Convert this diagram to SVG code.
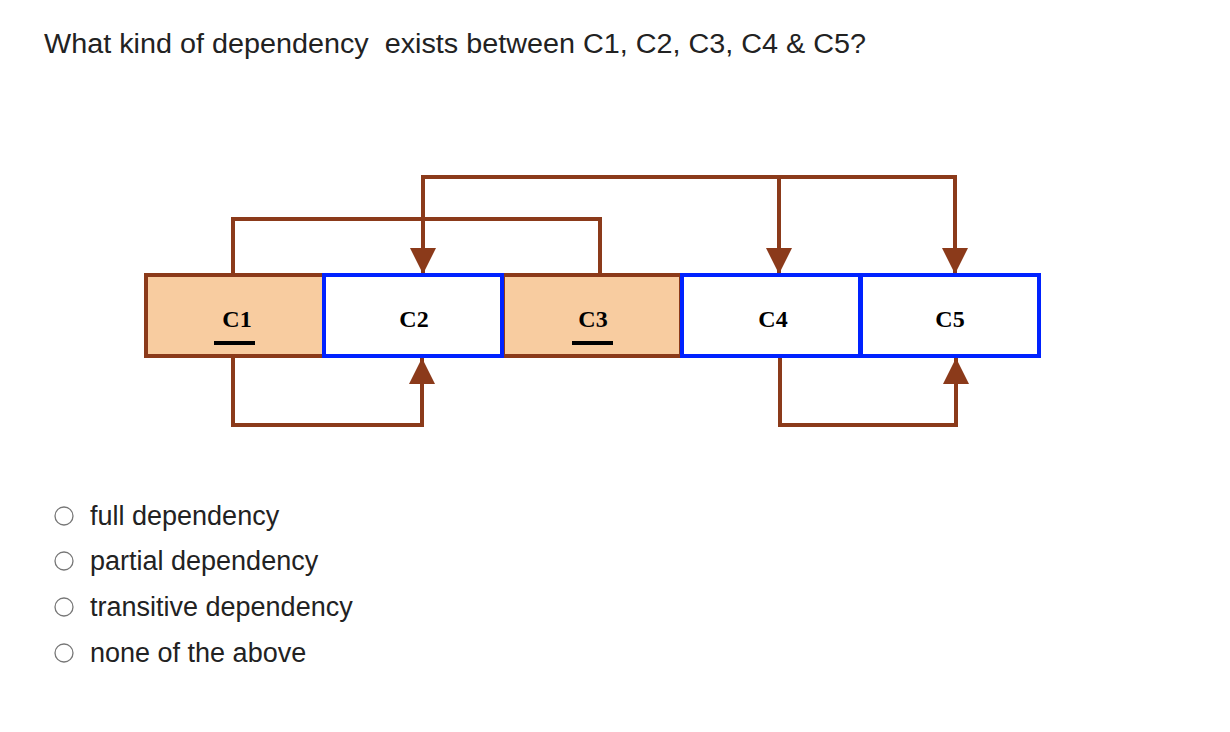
<svg xmlns="http://www.w3.org/2000/svg" width="1230" height="732" viewBox="0 0 1230 732">
<defs>
<style>
.q{font-family:"Liberation Sans",Arial,sans-serif;font-size:27px;fill:#222;white-space:pre}
.o{font-family:"Liberation Sans",Arial,sans-serif;font-size:27px;fill:#222}
.lbl{font-family:"Liberation Serif","Times New Roman",serif;font-size:24px;font-weight:bold;text-anchor:middle;fill:#000}
.key{fill:#f8cca0;stroke:#8b3a1a;stroke-width:4}
.non{fill:#fff;stroke:#0022ff;stroke-width:4}
.c{fill:none;stroke:#8b3a1a;stroke-width:4}
.rad{fill:#fff;stroke:#777;stroke-width:1.3}
</style>
<marker id="ah" viewBox="0 0 10 10" refX="10" refY="5" markerWidth="6.5" markerHeight="6.5" markerUnits="strokeWidth" orient="auto"><path d="M0,0 L10,5 L0,10 z" fill="#8b3a1a"/></marker>
</defs>
<rect width="1230" height="732" fill="#fff"/>
<text class="q" x="44" y="53" textLength="822" lengthAdjust="spacingAndGlyphs">What kind of dependency  exists between C1, C2, C3, C4 &amp; C5?</text>
<g id="connectors">
<path class="c" d="M233,274 V219 H600 V274"/>
<path class="c" d="M423,177 H955 M423,175 V274" marker-end="url(#ah)"/>
<path class="c" d="M779,177 V274" marker-end="url(#ah)"/>
<path class="c" d="M955,175 V274" marker-end="url(#ah)"/>
<path class="c" d="M233,357 V425 H422 V358" marker-end="url(#ah)"/>
<path class="c" d="M780,357 V425 H956 V358" marker-end="url(#ah)"/>
</g>
<g id="C1"><rect class="key" x="146" y="275" width="178" height="81"/><text class="lbl" x="237" y="327">C1</text><rect x="214" y="341" width="41" height="4" fill="#000"/></g>
<g id="C3"><rect class="key" x="503" y="275" width="178" height="81"/><text class="lbl" x="593" y="327">C3</text><rect x="572" y="341" width="41" height="4" fill="#000"/></g>
<g id="C2"><rect class="non" x="324" y="275" width="178" height="81"/><text class="lbl" x="414" y="327">C2</text></g>
<g id="C4"><rect class="non" x="682" y="275" width="178" height="81"/><text class="lbl" x="773" y="327">C4</text></g>
<g id="C5"><rect class="non" x="861" y="275" width="178" height="81"/><text class="lbl" x="950" y="327">C5</text></g>
<g id="options">
<circle class="rad" cx="64" cy="516" r="9"/><text class="o" x="90" y="525">full dependency</text>
<circle class="rad" cx="64" cy="561" r="9"/><text class="o" x="90" y="570">partial dependency</text>
<circle class="rad" cx="64" cy="607" r="9"/><text class="o" x="90" y="616">transitive dependency</text>
<circle class="rad" cx="64" cy="653" r="9"/><text class="o" x="90" y="662">none of the above</text>
</g>
</svg>
